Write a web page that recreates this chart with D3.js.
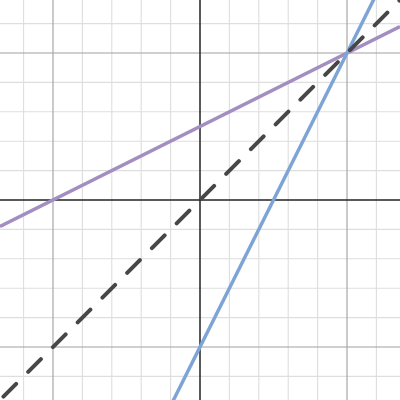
<!DOCTYPE html>
<html lang="en">
<head>
    <meta charset="UTF-8">
    <title>Lines</title>
    <style>
        body { margin: 0; background: #fff; }
        svg { display: block; }
    </style>
    <script src="https://d3js.org/d3.v7.min.js"></script>
</head>
<body>
    <svg width="400" height="400"></svg>
    <script>
        // view range (units) and grid steps
        const xDomain = [-1.3605, 1.3605];
        const yDomain = [-1.3605, 1.3605];
        const minorTicks = d3.range(-1.2, 1.21, 0.2).map(v => +v.toFixed(1));
        const majorTicks = [-1, 1];

        // lines y = m*x + b
        const lines = [
            { name: "y = 0.5x + 0.5", m: 0.5, b: 0.5, color: "#a38ec2", dashed: false },
            { name: "y = 2x - 1", m: 2, b: -1, color: "#7ca4d5", dashed: false },
            { name: "y = x", m: 1, b: 0, color: "#474747", dashed: true }
        ];

        const width = 400, height = 400;
        const svg = d3.select("svg");

        const x = d3.scaleLinear().domain(xDomain).range([0, width]);
        const y = d3.scaleLinear().domain(yDomain).range([height, 0]);

        // minor grid
        const grid = svg.append("g");
        const minor = minorTicks.filter(t => t !== 0 && Math.abs(t) !== 1);
        grid.selectAll("line.vminor")
            .data(minor)
            .enter().append("line")
            .attr("x1", d => x(d)).attr("x2", d => x(d))
            .attr("y1", 0).attr("y2", height)
            .style("stroke", "#dedede").style("stroke-width", 1.1);
        grid.selectAll("line.hminor")
            .data(minor)
            .enter().append("line")
            .attr("y1", d => y(d)).attr("y2", d => y(d))
            .attr("x1", 0).attr("x2", width)
            .style("stroke", "#dedede").style("stroke-width", 1.1);

        // major grid
        grid.selectAll("line.vmajor")
            .data(majorTicks)
            .enter().append("line")
            .attr("x1", d => x(d)).attr("x2", d => x(d))
            .attr("y1", 0).attr("y2", height)
            .style("stroke", "#a0a0a0").style("stroke-width", 1.1);
        grid.selectAll("line.hmajor")
            .data(majorTicks)
            .enter().append("line")
            .attr("y1", d => y(d)).attr("y2", d => y(d))
            .attr("x1", 0).attr("x2", width)
            .style("stroke", "#a0a0a0").style("stroke-width", 1.1);

        // axes
        svg.append("line")
            .attr("x1", 0).attr("x2", width)
            .attr("y1", y(0)).attr("y2", y(0))
            .style("stroke", "#222").style("stroke-width", 1.5);
        svg.append("line")
            .attr("x1", x(0)).attr("x2", x(0))
            .attr("y1", 0).attr("y2", height)
            .style("stroke", "#222").style("stroke-width", 1.5);

        // draw the lines across the whole view
        const lineGen = d3.line().x(d => x(d[0])).y(d => y(d[1]));
        const dashLen = 18, gapLen = 17, cap = 2;

        lines.forEach(l => {
            const pts = [xDomain[0], xDomain[1]].map(v => [v, l.m * v + l.b]);
            const path = svg.append("path")
                .attr("d", lineGen(pts))
                .style("fill", "none")
                .style("stroke", l.color)
                .style("stroke-width", l.dashed ? 4 : 3.5);
            if (l.dashed) {
                // start a dash right at the origin
                const sx = x(pts[0][0]) - x(0), sy = y(pts[0][1]) - y(0);
                const dist = Math.hypot(sx, sy) + cap;
                const period = dashLen + gapLen;
                path.style("stroke-dasharray", dashLen + "," + gapLen)
                    .style("stroke-dashoffset", (period - (dist % period)) % period)
                    .style("stroke-linecap", "round");
            }
        });
    </script>
</body>
</html>
